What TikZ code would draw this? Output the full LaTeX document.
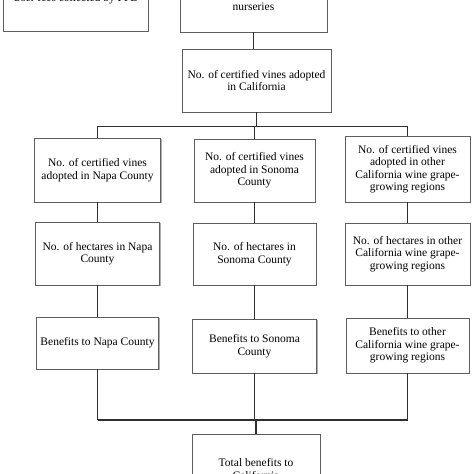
\documentclass[tikz,border=0pt]{standalone}
\usepackage{fontspec}
\setmainfont{Liberation Serif}
\usepackage{tikz}
\usetikzlibrary{positioning, calc, shadows}
\definecolor{linea}{HTML}{2E2E2E}
\definecolor{borde}{HTML}{5E5E5E}
\definecolor{sombra}{HTML}{9A9A9A}
\tikzset{
  caja/.style={draw=borde, line width=0.9pt, fill=white, align=center, inner sep=2pt,
    drop shadow={shadow xshift=1.2pt, shadow yshift=-1.4pt, fill=sombra, opacity=0.8}},
  conector/.style={draw=linea, line width=1.1pt}
}
\begin{document}
\begin{tikzpicture}[x=1pt, y=-1pt, font=\fontsize{11.5}{12.5}\selectfont]
				\useasboundingbox (0,0) rectangle (474,474);
				\clip (0,0) rectangle (474,474);
				\fill[white] (0,0) rectangle (474,474);
				% fila superior (cortada por el borde)
				\node[caja, minimum width=145pt, minimum height=65pt] (fees) at (75.5,-1.5) {User fees collected by PPB};
				\node[caja, minimum width=147pt, minimum height=56pt] (nurs) at (253.5,4) {\mbox{}\\nurseries};
				\node[caja, minimum width=149pt, minimum height=63pt] (cal) at (256.5,80.5) {No. of certified vines adopted\\in California};
				% vinas adoptadas
				\node[caja, minimum width=126pt, minimum height=64pt] (napa1) at (97.5,170) {No. of certified vines\\adopted in Napa County};
				\node[caja, minimum width=121pt, minimum height=63pt] (sonoma1) at (254.5,170.5) {No. of certified vines\\adopted in Sonoma\\County};
				\node[caja, minimum width=125pt, minimum height=66pt] (other1) at (407.5,169) {No. of certified vines\\adopted in other\\California wine grape-\\growing regions};
				% hectareas
				\node[caja, minimum width=124pt, minimum height=63pt] (napa2) at (97.5,253.5) {No. of hectares in Napa\\County};
				\node[caja, minimum width=123pt, minimum height=62pt] (sonoma2) at (254.5,254) {No. of hectares in\\Sonoma County};
				\node[caja, minimum width=125pt, minimum height=62pt] (other2) at (407.5,254) {No. of hectares in other\\California wine grape-\\growing regions};
				% beneficios
				\node[caja, minimum width=122pt, minimum height=52pt] (napa3) at (97.5,343) {Benefits to Napa County};
				\node[caja, minimum width=124pt, minimum height=54pt] (sonoma3) at (254.5,346) {Benefits to Sonoma\\County};
				\node[caja, minimum width=123pt, minimum height=55pt] (other3) at (407.5,345.5) {Benefits to other\\California wine grape-\\growing regions};
				\node[caja, minimum width=128pt, minimum height=70pt] (total) at (256,469) {Total benefits to\\California};
				% conectores
				\coordinate (split) at ($(cal.south)+(0,14)$);
				\coordinate (join) at (256,420);
				\draw[conector] (nurs.south) -- (nurs.south |- cal.north);
				\draw[conector] (cal.south) -- (split);
				\draw[conector] (split -| napa1.north) -- (split -| other1.north);
				\foreach \n in {napa1, sonoma1, other1} \draw[conector] (\n.north |- split) -- (\n.north);
				\foreach \r in {napa, sonoma, other} {
					\draw[conector] (\r1.south) -- (\r2.north);
					\draw[conector] (\r2.south) -- (\r3.north);
					\draw[conector] (\r3.south) -- (\r3.south |- join);
				}
				\draw[conector] (join -| napa3.south) -- (join -| other3.south);
				\draw[conector] (join) -- (total.north);
			\end{tikzpicture}
\end{document}
